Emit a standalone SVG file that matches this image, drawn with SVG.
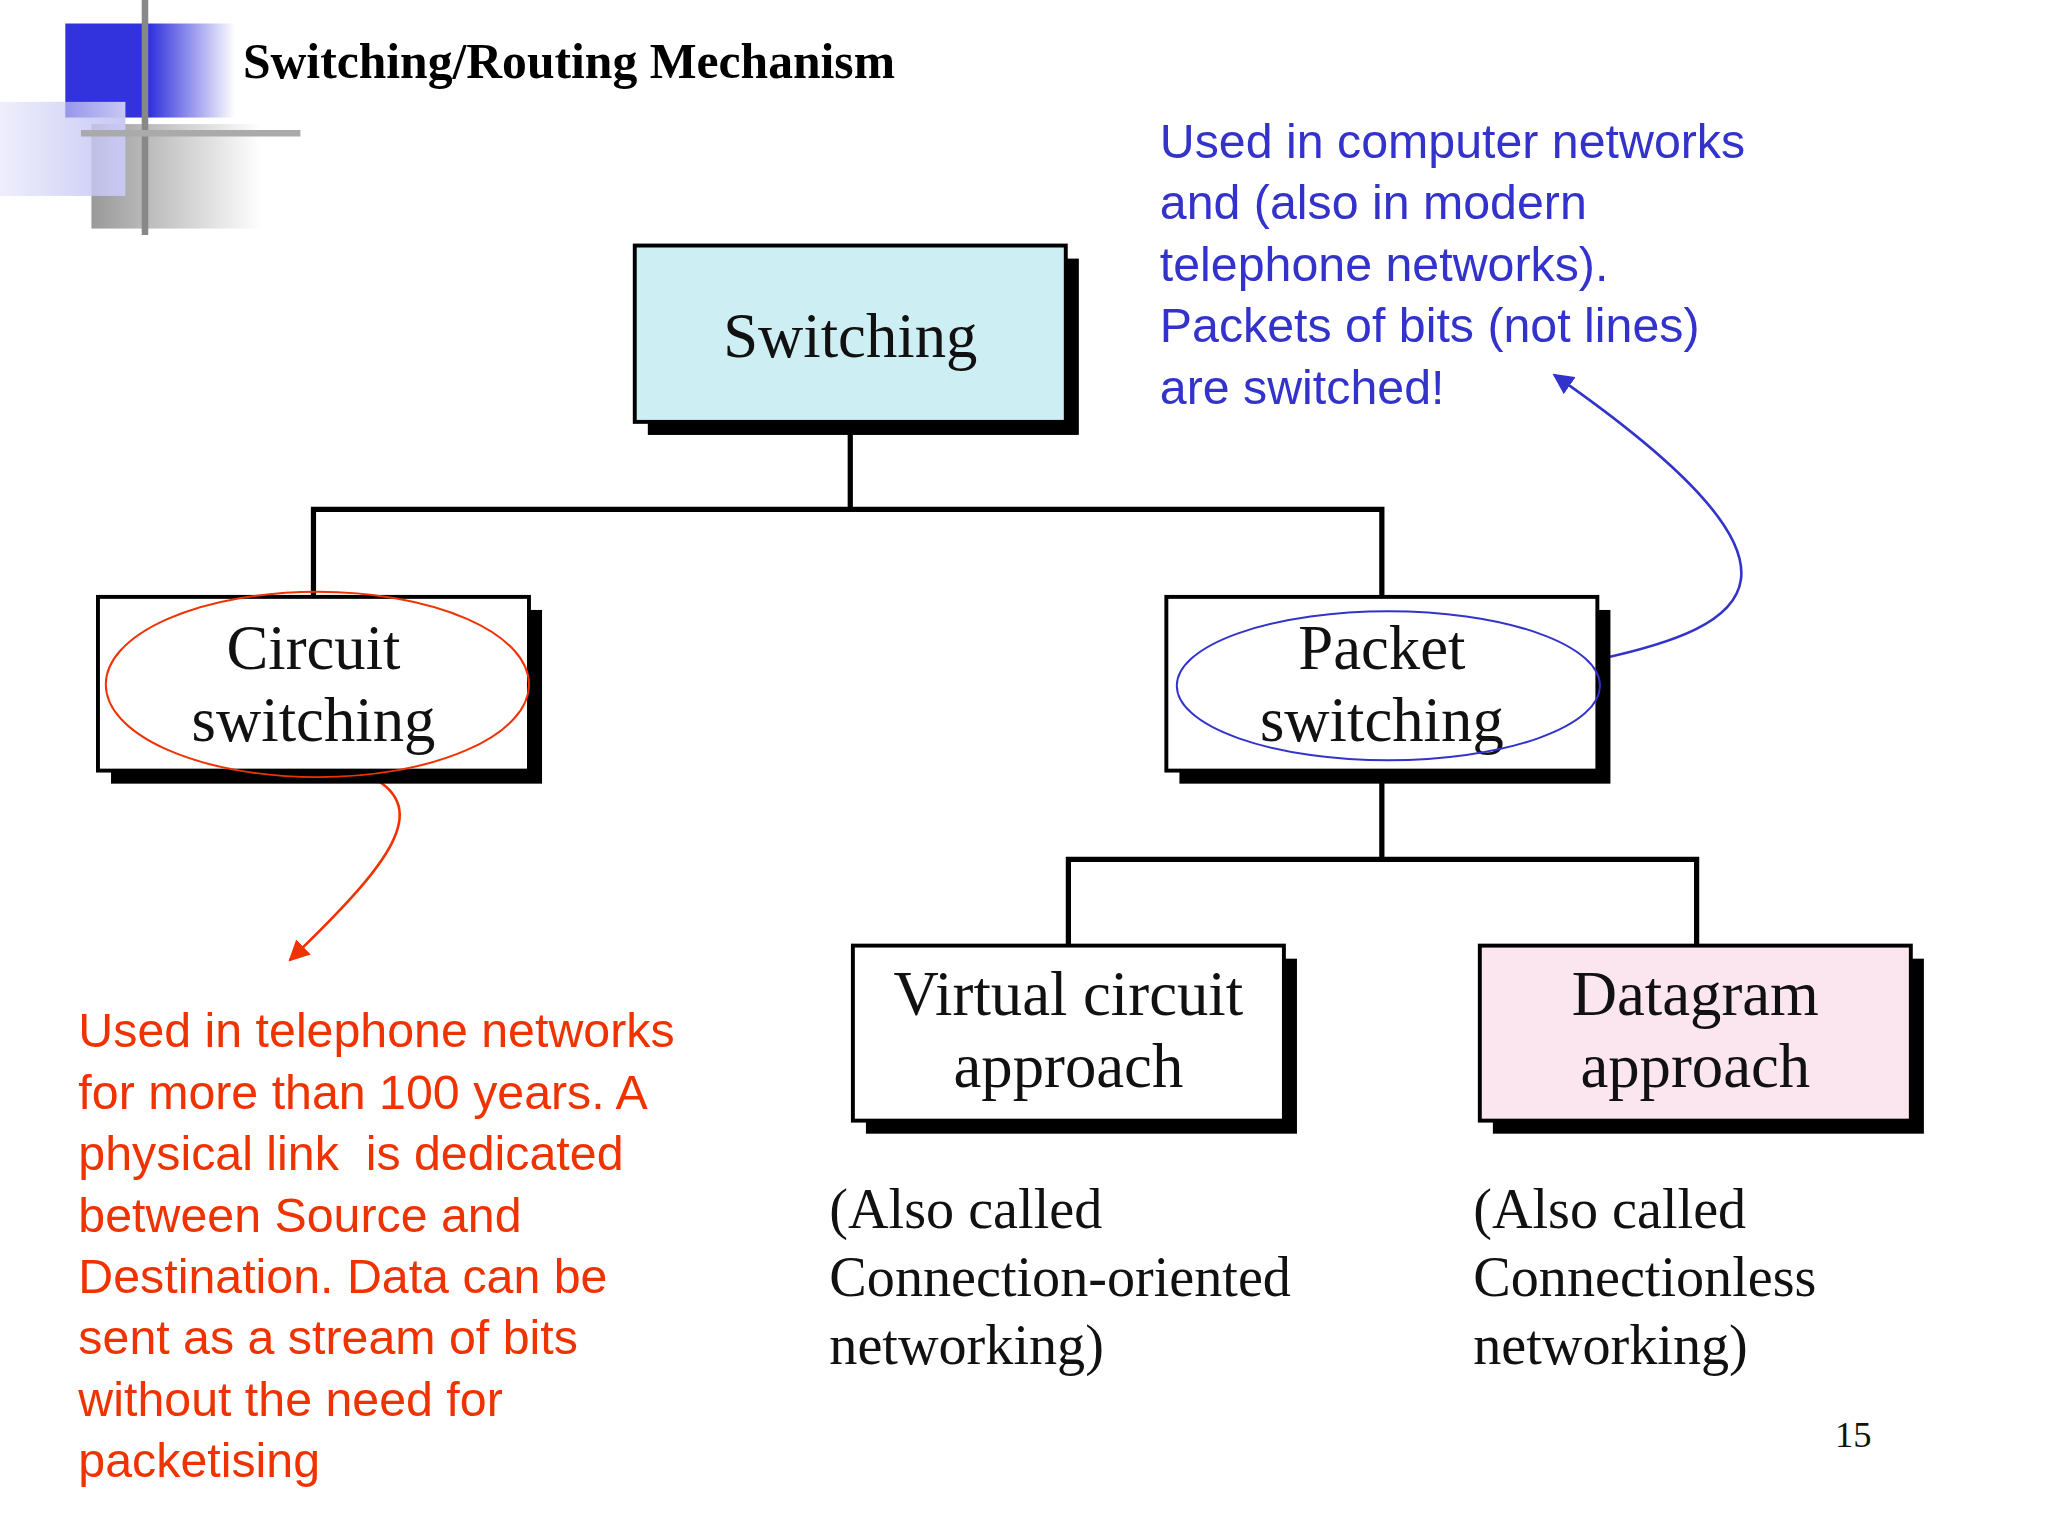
<svg xmlns="http://www.w3.org/2000/svg" width="2048" height="1536" viewBox="0 0 2048 1536">
<defs>
<linearGradient id="gb" x1="0" x2="1"><stop offset="0" stop-color="#3333dd"/><stop offset="0.5" stop-color="#3333dd"/><stop offset="1" stop-color="#3333dd" stop-opacity="0"/></linearGradient>
<linearGradient id="gg" x1="0" x2="1"><stop offset="0" stop-color="#999"/><stop offset="1" stop-color="#999" stop-opacity="0"/></linearGradient>
<linearGradient id="gl" x1="0" x2="1"><stop offset="0" stop-color="#c8c8f4" stop-opacity="0.3"/><stop offset="1" stop-color="#c8c8f4"/></linearGradient>
<marker id="ar" viewBox="0 0 10 10" refX="9" refY="5" markerWidth="8" markerHeight="8" orient="auto"><path d="M0,0 L10,5 L0,10 z" fill="#ee3300"/></marker>
<marker id="ab" viewBox="0 0 10 10" refX="9" refY="5" markerWidth="8" markerHeight="8" orient="auto"><path d="M0,0 L10,5 L0,10 z" fill="#3333cc"/></marker>
</defs>
<style>
.box{stroke:#000;stroke-width:3}
.sh{fill:#000}
.nt{font-family:"Liberation Serif",serif;font-size:48px;text-anchor:middle;fill:#111}
.ln{stroke:#000;stroke-width:4;fill:none}
.bt{font-family:"Liberation Sans",sans-serif;font-size:37px;fill:#3333cc}
.rt{font-family:"Liberation Sans",sans-serif;font-size:37px;fill:#ee3300}
.st{font-family:"Liberation Serif",serif;font-size:43px;fill:#111}
</style>
<rect width="2048" height="1536" fill="#fff"/>
<g transform="scale(1.3061)">
<g id="logo">
<rect x="50" y="18" width="130" height="72" fill="url(#gb)"/>
<rect x="70" y="95" width="130" height="80" fill="url(#gg)"/>
<rect x="0" y="78" width="96" height="72" fill="url(#gl)"/>
<line x1="111" y1="0" x2="111" y2="180" stroke="#888" stroke-width="5"/>
<line x1="62" y1="102" x2="230" y2="102" stroke="#aaa" stroke-width="5"/>
</g>
<text x="186" y="60" font-family="Liberation Serif,serif" font-weight="bold" font-size="38" fill="#000">Switching/Routing Mechanism</text>
<g id="connectors">
<path class="ln" d="M651,323 V390 M240,457 V390 H1058 V457 M1058,590 V658 M818,724 V658 H1299 V724"/>
<path d="M285,595 C330,620 300,660 222,735" fill="none" stroke="#ee3300" stroke-width="2" marker-end="url(#ar)"/>
<path d="M1223,505 C1340,480 1410,440 1190,287" fill="none" stroke="#3333cc" stroke-width="2" marker-end="url(#ab)"/>
</g>
<g id="switching">
<rect class="sh" x="496" y="198" width="330" height="135"/>
<rect class="box" x="486" y="188" width="330" height="135" fill="#cdeef3"/>
<text class="nt" x="651" y="273">Switching</text>
</g>
<g id="circuit">
<rect class="sh" x="85" y="467" width="330" height="133"/>
<rect class="box" x="75" y="457" width="330" height="133" fill="#fff"/>
<text class="nt" x="240" y="512">Circuit</text>
<text class="nt" x="240" y="567">switching</text>
<ellipse cx="243" cy="524" rx="162" ry="71" fill="none" stroke="#ee3300" stroke-width="1.5"/>
</g>
<g id="packet">
<rect class="sh" x="903" y="467" width="330" height="133"/>
<rect class="box" x="893" y="457" width="330" height="133" fill="#fff"/>
<text class="nt" x="1058" y="512">Packet</text>
<text class="nt" x="1058" y="567">switching</text>
<ellipse cx="1063" cy="525" rx="162" ry="57" fill="none" stroke="#3333cc" stroke-width="1.5"/>
</g>
<g id="virtual">
<rect class="sh" x="663" y="734" width="330" height="134"/>
<rect class="box" x="653" y="724" width="330" height="134" fill="#fff"/>
<text class="nt" x="818" y="777">Virtual circuit</text>
<text class="nt" x="818" y="832">approach</text>
</g>
<g id="datagram">
<rect class="sh" x="1143" y="734" width="330" height="134"/>
<rect class="box" x="1133" y="724" width="330" height="134" fill="#fbe5ee"/>
<text class="nt" x="1298" y="777">Datagram</text>
<text class="nt" x="1298" y="832">approach</text>
</g>
<g id="bluenote" class="bt">
<text x="888" y="121">Used in computer networks</text>
<text x="888" y="168">and (also in modern</text>
<text x="888" y="215">telephone networks).</text>
<text x="888" y="262">Packets of bits (not lines)</text>
<text x="888" y="309">are switched!</text>
</g>
<g id="rednote" class="rt">
<text x="60" y="802">Used in telephone networks</text>
<text x="60" y="849">for more than 100 years. A</text>
<text x="60" y="896" xml:space="preserve">physical link  is dedicated</text>
<text x="60" y="943">between Source and</text>
<text x="60" y="990">Destination. Data can be</text>
<text x="60" y="1037">sent as a stream of bits</text>
<text x="60" y="1084">without the need for</text>
<text x="60" y="1131">packetising</text>
</g>
<g id="vnote" class="st">
<text x="635" y="940">(Also called</text>
<text x="635" y="992">Connection-oriented</text>
<text x="635" y="1044">networking)</text>
</g>
<g id="dnote" class="st">
<text x="1128" y="940">(Also called</text>
<text x="1128" y="992">Connectionless</text>
<text x="1128" y="1044">networking)</text>
</g>
<text x="1405" y="1108" font-family="Liberation Serif,serif" font-size="28" fill="#111">15</text>
</g>
</svg>
